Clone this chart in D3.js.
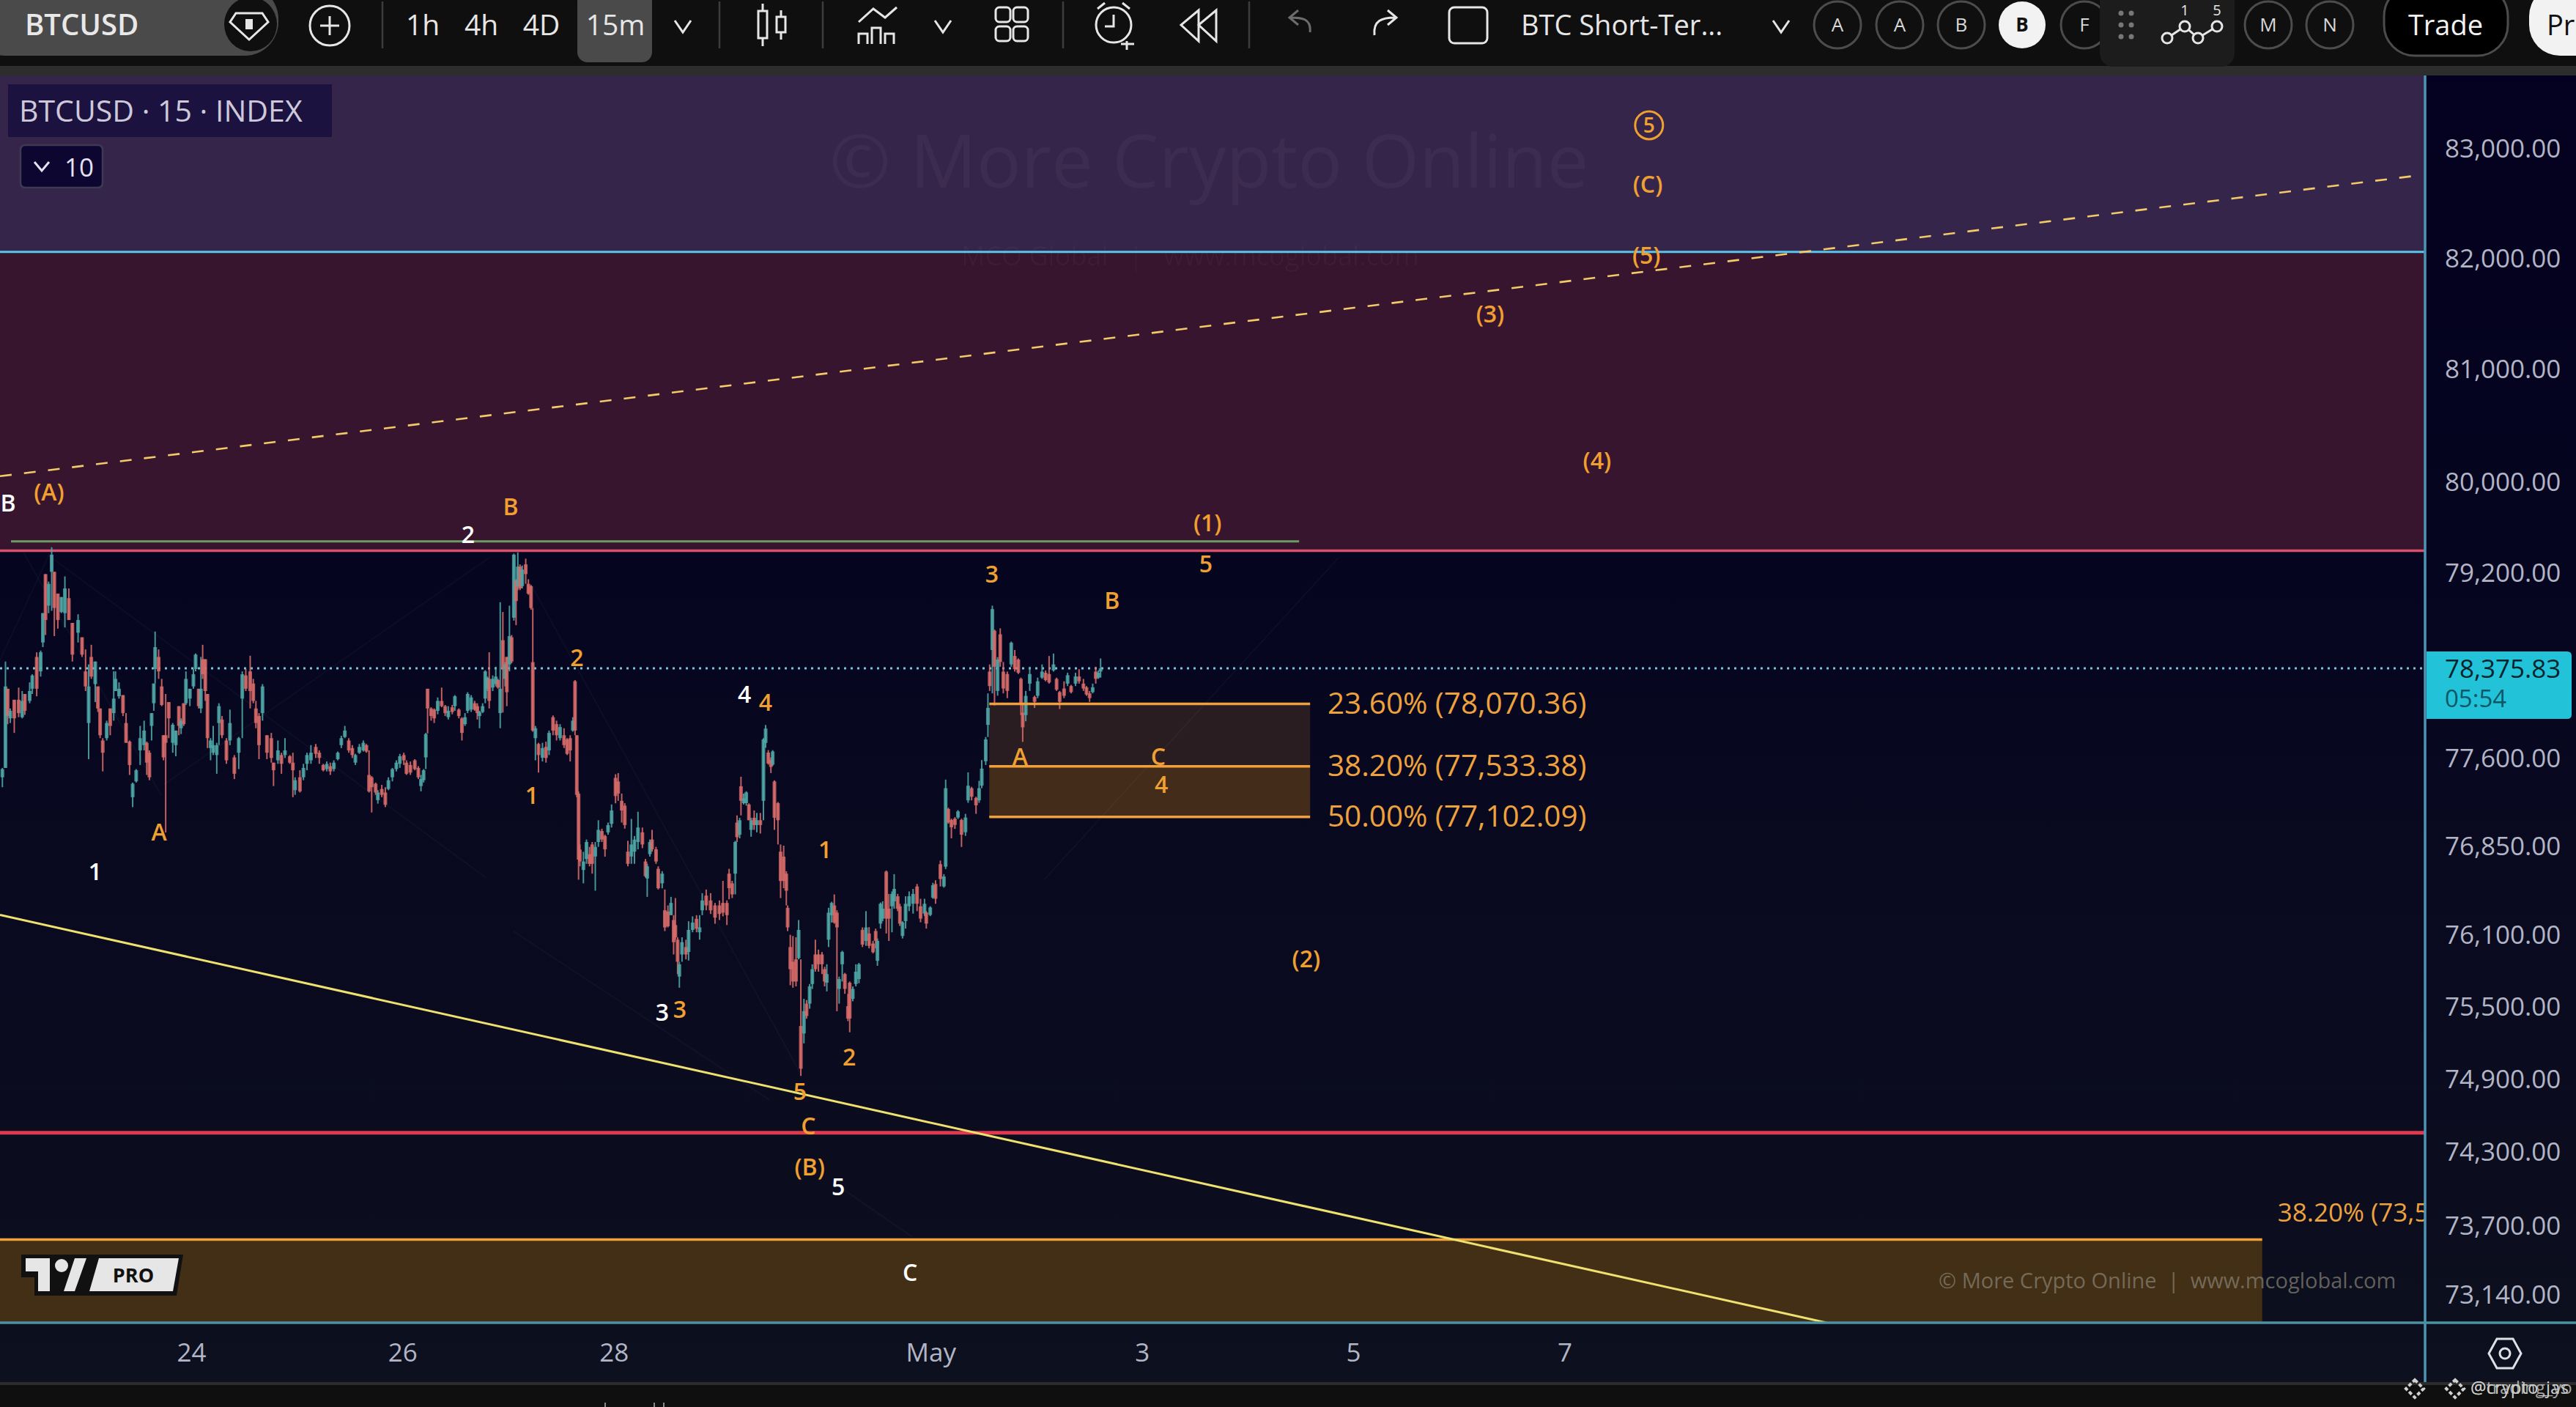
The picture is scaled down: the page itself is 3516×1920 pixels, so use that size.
<!DOCTYPE html>
<html><head><meta charset="utf-8">
<script src="https://cdn.jsdelivr.net/npm/d3@7"></script>
<style>html,body{margin:0;padding:0;background:#0f0f0f}svg{display:block}text{font-family:"Open Sans",sans-serif}</style>
</head><body><div id="c"></div>
<script>
// ---- values ----
// time unit: hours since 22 Apr 00:00 (UTC). Rows: hour, open, high, low, close
const candlesApr22to25 = [
[5.1,77440,77520,77355,77510],[5.8,77520,78435,77520,78220],[6.3,78200,78200,77895,77965],[6.9,77945,78030,77905,78010],[7.8,78105,78105,77820,77945],[8.8,78105,78210,77955,77990],[9.6,77955,78180,77945,78095],[10.2,78155,78155,77975,78010],[11.3,78095,78255,78075,78180],[11.9,78200,78325,78155,78315],[12.9,78475,78515,78135,78200],[13.8,78350,78530,78305,78515],[14.3,78600,78855,78560,78855],[14.9,79195,79195,78665,78795],[15.6,78920,79130,78855,79110],[16.3,79215,79430,78875,79365],[16.9,79215,79215,78655,78900],[17.7,79025,79025,78720,78795],[18.5,78865,78995,78855,78995],[19.3,78855,79175,78730,79070],[20.2,78985,79070,78795,78795],[21,78770,78770,78435,78495],[22.3,78685,78845,78600,78795],[23.2,78645,78645,78475,78495],[24,78350,78540,78180,78220],[24.7,77905,78410,77595,78220],[25.3,78475,78580,78285,78305],[26.2,78240,78435,78085,78435],[26.8,78220,78220,78000,78030],[27.3,78030,78030,77775,77800],[27.9,77755,77775,77490,77650],[28.8,77775,77925,77755,77905],[29.6,78030,78030,77800,77880],[30.4,77990,78350,77925,78115],[30.8,78180,78350,78180,78285],[31.6,78135,78255,78115,78200],[32.5,78145,78145,77965,77990],[33.2,77905,77990,77735,77735],[34,77745,77755,77460,77545],[34.7,77270,77395,77185,77385],[35.5,77405,77510,77395,77500],[36.4,77670,77880,77545,77775],[37.3,77715,77925,77670,77840],[37.9,77735,77745,77460,77565],[38.5,77650,77670,77415,77440],[39,77880,77990,77755,77990],[39.5,78075,78245,78010,78245],[39.8,78370,78695,78245,78560],[40.6,78475,78540,78285,78350],[41.3,78220,78285,78050,78060],[41.7,77800,77800,77585,77610],[42.2,77800,78155,76970,77735],[42.9,78085,78085,77775,77945],[43.8,77735,77905,77650,77890],[44.5,77715,77840,77620,77840],[45.2,78050,78050,77800,77880],[45.7,77860,77945,77810,77925],[46.3,78075,78075,77880,77895],[46.8,78075,78350,78060,78285],[47.7,78115,78200,78050,78200],[48.5,78220,78370,78200,78325],[49,78370,78505,78350,78495],[49.7,78200,78200,78030,78050],[50.2,78030,78475,77990,78200],[50.6,78455,78580,78285,78325],[51.2,78455,78455,78095,78180],[51.7,78155,78155,77690,77775],[52.4,77690,77775,77585,77755],[53,77650,77880,77630,77715],[53.8,77630,77735,77470,77715],[54.3,77905,78075,77715,78050],[55,77935,77965,77775,77800],[56,77755,77775,77555,77585],[56.8,77755,78020,77715,77905],[57.8,77610,77630,77425,77470],[58.8,77650,77785,77510,77775],[59.6,78115,78350,77775,78325],[60.4,78315,78370,78180,78200],[61.4,78350,78485,78030,78180],[62.1,78245,78285,78075,78095],[62.7,78030,78095,77860,77905],[63.4,77965,77990,77595,77715],[64.2,77990,78240,77925,78220],[65.2,77800,77800,77595,77650],[66.2,77775,77820,77565,77605],[66.7,77565,77565,77365,77500],[67.7,77585,77755,77555,77670],[68.5,77630,77650,77470,77555],[69.3,77630,77775,77605,77670],[70.4,77620,77630,77555,77565],[71.1,77565,77650,77270,77500]
];
const candlesApr25to27 = [
[71.6,77330,77440,77290,77415],[72.7,77440,77500,77310,77320],[73.5,77440,77555,77415,77520],[74.3,77555,77650,77500,77630],[75.2,77585,77715,77555,77650],[76.3,77700,77725,77605,77640],[77.1,77650,77670,77555,77605],[78,77545,77555,77490,77500],[78.8,77510,77575,77490,77555],[79.6,77535,77565,77460,77490],[80.4,77510,77585,77490,77565],[81.3,77595,77660,77585,77650],[82.1,77715,77795,77690,77775],[82.9,77785,77880,77775,77840],[83.8,77755,77775,77650,77670],[84.6,77690,77715,77605,77630],[85.3,77565,77640,77545,77630],[86.2,77650,77725,77640,77700],[87.1,77670,77755,77660,77735],[87.8,77715,77725,77650,77660],[88.4,77460,77670,77310,77320],[89,77440,77450,77140,77355],[89.9,77385,77395,77290,77310],[90.4,77245,77330,77215,77310],[91.3,77340,77375,77270,77290],[92.1,77310,77355,77185,77205],[92.8,77340,77440,77330,77415],[93.7,77440,77520,77405,77510],[94.6,77510,77585,77490,77565],[95.4,77555,77640,77520,77620],[96.3,77630,77650,77545,77585],[96.9,77565,77585,77460,77470],[97.8,77545,77575,77460,77480],[98.8,77585,77595,77500,77510],[99.6,77520,77535,77425,77440],[100.2,77365,77460,77320,77425],[100.8,77415,77510,77395,77500],[101.3,77610,77820,77510,77810],[101.7,78200,78200,77815,78030],[102.5,78030,78040,77925,77965],[103.2,78020,78030,77905,77945],[104,78010,78125,77980,78095],[104.9,78095,78210,78040,78050],[105.7,78050,78060,77965,77990],[106.4,77955,78050,77935,78010],[107.3,78040,78060,77980,78000],[107.9,78050,78145,78010,78135],[108.8,78020,78030,77945,77965],[109.5,77945,77955,77755,77820],[110.2,77895,77990,77880,77955],[110.8,78010,78170,77990,78155],[111.6,78020,78145,78000,78125],[112.4,78075,78095,78010,78020],[113,78050,78075,77935,77990],[113.5,77965,78010,77860,77999],[114.2,78000,78075,77990,78050],[114.8,78115,78360,78075,78350],[115.3,78200,78305,78180,78295],[115.7,78285,78515,78030,78095],[116.5,78210,78315,78180,78285],[117.2,78240,78390,78220,78305],[117.7,78275,78285,78200,78210],[118.2,77990,78950,77860,78200],[118.8,78620,78865,77995,78370],[119.3,78285,78430,78220,78410],[119.7,78475,78475,78050,78170],[120.3,78410,78920,78350,78655],[120.8,78645,78665,78420,78435],[121.3,78815,79375,78790,79365],[121.8,79140,79150,78750,78960],[122.2,79090,79385,79055,79260],[122.7,79260,79280,79055,79070],[123.2,79090,79270,79070,79235],[124,79280,79330,79110,79195],[124.6,79110,79150,79015,79025],[125.2,79090,79100,78885,78900],[125.6,78430,78900,77830,77840],[126.2,77775,77880,77585,77860],[126.9,77725,77735,77480,77630],[127.8,77607,77735,77575,77690],[128.6,77700,77745,77565,77605],[129.3,77670,77840,77630,77820],[130.2,77955,77970,77800,77840],[131,77895,77925,77755,77800],[131.8,77775,77895,77755,77870],[132.7,77800,77860,77690,77715],[133.4,77765,77775,77630,77640],[134.1,77775,77800,77575,77670],[134.7,77840,77955,77830,77925],[135.2,78265,78275,77800,77840],[135.6,77800,77800,77270,77290]
];
const candlesApr27to30 = [
[136,77300,77320,76570,76740],[136.3,76825,76868,76683,76724],[137.1,76652,76806,76539,76724],[137.8,76745,76910,76704,76889],[138.5,76786,76848,76683,76704],[139.1,76868,76889,76621,76704],[139.8,76766,76889,76477,76848],[140.5,76889,77074,76848,76992],[141.3,76982,77002,76889,76910],[142,76940,76951,76765,76827],[142.7,76971,77054,76951,77033],[143.5,77043,77208,77012,77157],[144.4,77435,77466,77218,77280],[145,77404,77476,77239,77301],[145.8,77239,77301,77054,77157],[146.5,77198,77219,77002,77033],[147.2,76807,76899,76683,76704],[148,76766,77085,76704,76868],[148.7,76807,76940,76704,76910],[149.5,76889,77146,76827,77012],[150.5,76971,77012,76837,76868],[151.2,76724,76745,76590,76600],[151.6,76580,76704,76425,76683],[152.2,76786,76910,76765,76889],[152.7,76910,76992,76807,76827],[153.6,76827,76848,76704,76724],[154.1,76662,76683,76487,76498],[155,76539,76642,76497,76621],[155.6,76312,76487,76137,76168],[156.3,76302,76353,76168,76178],[157,76271,76425,76271,76374],[157.6,76230,76271,75941,76044],[158,76188,76415,76065,76085],[158.5,76065,76085,75777,75880],[158.9,75756,75880,75663,75859],[159.5,75941,76085,75880,76044],[160.4,76003,76065,75900,75941],[161,75962,76220,75890,76147],[161.9,76147,76261,76127,76209],[162.8,76240,76271,76127,76157],[163.5,76127,76271,76065,76168],[164.1,76312,76456,76271,76395],[165,76436,76487,76312,76353],[166,76395,76456,76281,76312],[167,76353,76374,76199,76250],[168,76353,76395,76230,76281],[168.8,76374,76560,76261,76292],[169.7,76374,76395,76188,76271],[170.2,76621,76662,76405,76498],[170.9,76539,76560,76415,76446],[171.6,76621,76899,76446,76889],[172,77054,77115,76889,76930],[172.6,76951,77095,76920,77074],[172.9,77363,77445,77115,77239],[173.5,77219,77301,77208,77260],[174.1,77219,77321,77198,77311],[174.7,77208,77218,77074,77074],[175.2,76992,77095,76934,77074],[175.9,77095,77157,76992,77033],[176.5,77033,77136,76971,77074],[177.3,77074,77136,76961,77033],[178,77239,77775,77074,77764],[178.5,77734,77888,77692,77857],[179.1,77651,77672,77548,77558],[179.7,77589,77610,77476,77528],[180.1,77548,77672,77538,77661],[180.5,77404,77414,76992,77095],[181.3,77219,77229,76868,77074],[181.9,76807,76868,76415,76559],[182.6,76765,76858,76498,76559],[183.2,76621,76642,76353,76477],[183.5,76333,76353,76137,76168],[184.1,76003,76106,75684,75818],[184.7,75880,76096,75663,75715],[185.4,75900,76085,75674,75715],[186,75910,76230,75900,76147],[186.5,75344,75900,74930,74990],[187.2,75282,75570,75200,75468],[187.8,75530,75560,75405,75427],[188.5,75530,75694,75488,75674],[189.1,75694,75859,75653,75818],[189.8,75941,76065,75797,75818],[190.5,75941,75982,75797,75859],[191.3,75941,75962,75777,75859],[191.9,75818,75838,75674,75715],[192.4,75705,75859,75632,75777],[192.8,76065,76333,76003,76292],[193.5,76271,76384,76209,76374],[194.1,76353,76446,76199,76209],[194.7,76292,76312,75467,76168],[195.2,75653,75756,75530,75735],[195.9,75859,75972,75715,75962],[196.5,75777,75787,75612,75653],[197.2,75509,75612,75385,75406],[197.6,75705,75715,75292,75406],[198.3,75570,75674,75550,75653],[199,75694,75859,75674,75797],[199.7,75735,75870,75700,75859],[200.5,76147,76168,76003,76024]
];
const candlesApr30toMay2 = [
[201.3,76054,76305,76013,76168],[202,76117,76170,75992,76013],[202.9,76033,76055,75950,75960],[203.5,76138,76158,75992,76055],[203.9,75888,76075,75846,76055],[204.6,76200,76378,76158,76367],[205.1,76242,76388,76221,76326],[205.9,76638,76648,76117,76242],[206.5,76326,76450,76054,76242],[207.2,76346,76471,76127,76450],[207.7,76388,76617,76325,76492],[208.5,76430,76450,76305,76325],[209,76346,76367,76180,76200],[209.6,76096,76220,76075,76210],[210.3,76221,76430,76158,76367],[211.1,76346,76471,76305,76430],[212,76367,76492,76284,76450],[212.9,76513,76534,76305,76367],[213.7,76346,76409,76211,76242],[214.6,76284,76409,76263,76367],[215,76294,76305,76158,76200],[215.9,76273,76346,76263,76336],[216.5,76419,76544,76409,76523],[217.1,76534,76565,76367,76409],[218.2,76701,76732,76513,76576],[219,76513,76617,76503,76597],[219.4,76680,77420,76660,77347],[220,77170,77180,77045,77055],[220.7,77076,77087,76920,77014],[221.5,77087,77100,77000,77034],[222.2,77097,77160,77085,77149],[223,77076,77087,76847,76951],[223.9,76972,77128,76941,77097],[224.5,77243,77482,77222,77368],[225.3,77347,77358,77243,77274],[226.3,77264,77274,77128,77201],[227,77243,77410,77222,77347],[227.6,77368,77587,77347,77514],[228.5,77577,77785,77545,77764],[229,77889,78160,77785,78035],[229.4,78348,78410,78181,78223],[230,78535,78920,78160,78890],[230.5,78702,78712,78056,78390],[231.2,78181,78473,78140,78452],[231.8,78671,78723,78390,78431],[232.5,78348,78431,78160,78202],[233.4,78327,78348,78119,78181],[234.3,78410,78608,78390,78598],[235.1,78483,78535,78348,78369],[235.9,78452,78462,78327,78338],[236.5,78285,78296,77973,78077],[236.9,77994,78077,77743,77868],[237.6,77973,78181,77920,78139],[238.5,78244,78390,78181,78327],[239.6,78129,78140,78035,78087],[240.3,78139,78296,78119,78264],[241.3,78296,78410,78285,78348],[242.1,78338,78358,78264,78275],[242.9,78327,78483,78244,78254],[243.9,78358,78504,78348,78410],[244.6,78285,78296,78181,78192],[245.3,78171,78181,78025,78087],[246.3,78202,78264,78119,78139],[247.1,78244,78338,78223,78317],[247.9,78223,78233,78160,78171],[248.9,78244,78338,78223,78306],[249.7,78306,78369,78244,78264],[250.7,78244,78285,78181,78202],[251.4,78212,78223,78139,78150],[252.1,78160,78181,78087,78119],[252.8,78171,78244,78160,78212],[253.5,78348,78390,78244,78285],[254.1,78296,78358,78285,78338],[254.6,78348,78462,78296,78376]
];
const hourDomain = [4.56, 555.5];
const priceDomain = [83673, 72918];
const priceTicks = [83000,82000,81000,80000,79200,77600,76850,76100,75500,74900,74300,73700,73140];
const timeTicks = [48,96,144,216,264,312,360];
const timeTickLabels = ["24","26","28","May","3","5","7"];
const lastPrice = 78375.83;
const countdown = "05:54";
const zoneLevels = [83673, 82060, 79400];          // purple zone / maroon zone limits
const greenLevel = {price:79482, from:7.06, to:299.7};
const lowerRedLevel = 74462;
const fibHours = [229.3, 302.2];
const fibPrices = [78070.36, 77533.38, 77102.09];
const fibLabels = ["23.60% (78,070.36)","38.20% (77,533.38)","50.00% (77,102.09)"];
const lowerBox = {top:73590, bottom:72918, endHour:518.5, labelHour:522, label:"38.20% (73,5"};
const yellowTrend = [[4.56,76273],[419.5,72918]];
const dashedTrend = [[4.56,80055],[553.2,82752]];
const guideLines = [
[15.5,79360,114.9,76588],[41.8,77378,115.7,79340],[125.2,79104,186.5,74945],[121.1,76138,179.3,74735],
[194.8,74032,211.8,73612],[241.8,76571,308.7,79340],[4.56,78449,16.2,79405],[9.6,79405,41.2,77285]];
const whiteWaves = [["B",6.4,79804],["2",110.9,79527],["1",26.2,76625],["3",155,75445],["4",173.7,78139],["5",195,74008],["C",211.3,73311]];
const orangeWaves = [["(A)",15.7,79901],["B",120.6,79771],["A",40.7,76959],["2",135.6,78455],["1",125.4,77271],["4",178.5,78069],["3",159,75470],["1",192,76811],["2",197.5,75074],["5",186.3,74790],["C",188.2,74506],["(B)",188.5,74170],["3",229.9,79180],["B",257.2,78950],["A",236.3,77604],["C",267.7,77604],["4",268.4,77365],["5",278.5,79270],["(1)",278.9,79630],["(2)",301.3,75891],["(3)",343.1,81485],["(4)",367.4,80178],["(5)",378.6,82013],["(C)",378.9,82659]];
const circledWave = ["5",379.2,83215];
const topIntervals = [["1h",577],["4h",657],["4D",739],["15m",840]];
const circleButtons = [["A",2508],["A",2593],["B",2677],["B",2760],["F",2845],["M",3096],["N",3180]];

// ---- scales ----
const W=3516,H=1920, plotRight=3310, plotTop=103, plotBottom=1805;
const x=d3.scaleLinear().domain(hourDomain).range([0,plotRight]);
const y=d3.scaleLog().domain(priceDomain).range([plotTop,plotBottom]);
const candles=[...candlesApr22to25,...candlesApr25to27,...candlesApr27to30,...candlesApr30toMay2]
  .map(r=>({t:r[0],o:r[1],h:r[2],l:r[3],c:r[4]}));

const svg=d3.select("#c").append("svg").attr("width",W).attr("height",H).attr("viewBox",`0 0 ${W} ${H}`);
const defs=svg.append("defs");
const grad=defs.append("linearGradient").attr("id","navy").attr("x1",0).attr("x2",0).attr("y1",0).attr("y2",1);
grad.append("stop").attr("offset","0").attr("stop-color","#03011f");
grad.append("stop").attr("offset","0.45").attr("stop-color","#070620");
grad.append("stop").attr("offset","1").attr("stop-color","#0d101e");
defs.append("clipPath").attr("id","plot").append("rect").attr("x",0).attr("y",plotTop).attr("width",plotRight).attr("height",plotBottom-plotTop);

svg.append("rect").attr("width",W).attr("height",H).attr("fill","#0f0f0f");
svg.append("rect").attr("y",plotTop).attr("width",W).attr("height",1889-plotTop).attr("fill","url(#navy)");

const plot=svg.append("g").attr("clip-path","url(#plot)");
plot.append("rect").attr("x",0).attr("width",plotRight).attr("y",y(zoneLevels[0])).attr("height",y(zoneLevels[1])-y(zoneLevels[0])).attr("fill","#36254a");
plot.append("rect").attr("x",0).attr("width",plotRight).attr("y",y(zoneLevels[1])).attr("height",y(zoneLevels[2])-y(zoneLevels[1])).attr("fill","#38152e");

// watermark
plot.append("text").attr("x",1132).attr("y",256).attr("font-size",101).attr("fill","#fff").attr("fill-opacity",.035).text("© More Crypto Online");
plot.append("text").attr("x",1312).attr("y",362).attr("font-size",36).attr("fill","#fff").attr("fill-opacity",.03).text("MCO Global\u00a0\u00a0\u00a0|\u00a0\u00a0\u00a0www.mcoglobal.com");

// fib boxes
plot.append("rect").attr("x",x(fibHours[0])).attr("width",x(fibHours[1])-x(fibHours[0])).attr("y",y(fibPrices[0])).attr("height",y(fibPrices[1])-y(fibPrices[0])).attr("fill","#2a1d22");
plot.append("rect").attr("x",x(fibHours[0])).attr("width",x(fibHours[1])-x(fibHours[0])).attr("y",y(fibPrices[1])).attr("height",y(fibPrices[2])-y(fibPrices[1])).attr("fill","#432c19");
plot.append("rect").attr("x",0).attr("width",x(lowerBox.endHour)).attr("y",y(lowerBox.top)).attr("height",y(lowerBox.bottom)-y(lowerBox.top)).attr("fill","#432f15");

// faint guides
plot.selectAll(".guide").data(guideLines).join("line").attr("class","guide")
 .attr("x1",d=>x(d[0])).attr("y1",d=>y(d[1])).attr("x2",d=>x(d[2])).attr("y2",d=>y(d[3]))
 .attr("stroke","#ffffff").attr("stroke-opacity",.03).attr("stroke-width",2);

// lines
const hl=(p,a,b,c,w)=>plot.append("line").attr("x1",a).attr("x2",b).attr("y1",y(p)).attr("y2",y(p)).attr("stroke",c).attr("stroke-width",w);
hl(zoneLevels[1],0,plotRight,"#58c6ea",3);
hl(zoneLevels[2],0,plotRight,"#d8506c",3.5);
hl(greenLevel.price,x(greenLevel.from),x(greenLevel.to),"#6c9c62",3);
hl(lowerRedLevel,0,plotRight,"#df3a52",5);
plot.append("line").attr("x1",0).attr("x2",plotRight).attr("y1",y(lastPrice)).attr("y2",y(lastPrice))
 .attr("stroke","#74c4dc").attr("stroke-width",3).attr("stroke-dasharray","3 6");
const tl=d3.line().x(d=>x(d[0])).y(d=>y(d[1]));

// candles
const cg=plot.append("g");
const col=d=>d.c>=d.o?"#4fa9a8":"#d96c6a";
cg.selectAll(".w").data(candles).join("line").attr("class","w")
 .attr("x1",d=>x(d.t)).attr("x2",d=>x(d.t)).attr("y1",d=>y(d.h)).attr("y2",d=>y(d.l))
 .attr("stroke",col).attr("stroke-width",2).attr("stroke-opacity",.88);
cg.selectAll(".b").data(candles).join("rect").attr("class","b")
 .attr("x",d=>x(d.t)-2.5).attr("width",5)
 .attr("y",d=>Math.min(y(d.o),y(d.c))).attr("height",d=>Math.max(1.5,Math.abs(y(d.o)-y(d.c))))
 .attr("fill",col).attr("fill-opacity",.82);

// fib lines over candles
fibPrices.forEach(p=>hl(p,x(fibHours[0]),x(fibHours[1]),"#f0a03c",3.5));
hl(lowerBox.top,0,x(lowerBox.endHour),"#f0a03c",3.5);
plot.append("path").attr("d",tl(yellowTrend)).attr("fill","none").attr("stroke","#efe170").attr("stroke-width",3);
plot.append("path").attr("d",tl(dashedTrend)).attr("fill","none").attr("stroke","#f2ca68").attr("stroke-width",2.6).attr("stroke-dasharray","16 17");

// fib labels
fibPrices.forEach((p,i)=>plot.append("text").attr("x",1812).attr("y",y(p)).attr("dy","0.33em").attr("font-size",40.4).attr("fill","#eea23e").text(fibLabels[i]));
plot.append("text").attr("x",x(lowerBox.labelHour)).attr("y",1655).attr("dy","0.33em").attr("font-size",35).attr("fill","#eea23e").text(lowerBox.label);

// bottom-right credit
plot.append("text").attr("x",2646).attr("y",1748).attr("dy","0.36em").attr("font-size",29).attr("fill","#8a8578").attr("fill-opacity",.7).text("© More Crypto Online\u00a0\u00a0|\u00a0\u00a0www.mcoglobal.com");

// wave labels
const waves=(arr,c)=>plot.selectAll(null).data(arr).join("text").attr("x",d=>x(d[1])).attr("y",d=>y(d[2])).attr("dy","0.3em")
 .attr("text-anchor","middle").attr("font-size",32).attr("font-weight",600).attr("fill",c).text(d=>d[0]);
waves(orangeWaves,"#f0a030"); waves(whiteWaves,"#ffffff");
plot.append("circle").attr("cx",x(circledWave[1])).attr("cy",y(circledWave[2])).attr("r",19).attr("fill","none").attr("stroke","#f0a030").attr("stroke-width",3);
plot.append("text").attr("x",x(circledWave[1])).attr("y",y(circledWave[2])).attr("dy","0.36em").attr("text-anchor","middle").attr("font-size",28).attr("font-weight",600).attr("fill","#f0a030").text(circledWave[0]);

// TV PRO badge
const logo=svg.append("g");
logo.append("path").attr("d","M29 1712H250L241 1768H47V1743H29Z").attr("fill","#111");
logo.append("path").attr("d","M35 1717H68V1762H52V1735H35Z").attr("fill","#e6e6e6");
logo.append("circle").attr("cx",84).attr("cy",1727).attr("r",9).attr("fill","#e6e6e6");
logo.append("path").attr("d","M102 1717H118L102 1762H87Z").attr("fill","#e6e6e6");
logo.append("path").attr("d","M135 1717H244L236 1762H122Z").attr("fill","#e6e6e6");
logo.append("text").attr("x",182).attr("y",1740).attr("dy","0.36em").attr("text-anchor","middle").attr("font-size",27).attr("font-weight",700).attr("fill","#111").text("PRO");

// axes
const axisY=d3.axisRight(y).tickValues(priceTicks).tickSize(0).tickPadding(0).tickFormat(d3.format(",.2f"));
const gy=svg.append("g").attr("transform",`translate(3337,0)`).call(axisY);
gy.select(".domain").remove();
gy.selectAll("text").attr("font-size",35).attr("fill","#b2b5c6").attr("font-family",'"Open Sans",sans-serif');
const axisX=d3.axisBottom(x).tickValues(timeTicks).tickSize(0).tickPadding(0).tickFormat((d,i)=>timeTickLabels[i]);
const gx=svg.append("g").attr("transform",`translate(0,1845)`).call(axisX);
gx.select(".domain").remove();
gx.selectAll("text").attr("font-size",35).attr("fill","#b2b5c6").attr("dy","0.36em").attr("font-family",'"Open Sans",sans-serif');

// frame
svg.append("line").attr("x1",plotRight).attr("x2",plotRight).attr("y1",plotTop).attr("y2",1887).attr("stroke","#4f94b4").attr("stroke-width",3.5);
svg.append("line").attr("x1",0).attr("x2",W).attr("y1",plotBottom).attr("y2",plotBottom).attr("stroke","#4a92a4").attr("stroke-width",3.5);

// last price tag
svg.append("path").attr("d","M3312 889H3504Q3510 889 3510 895V975Q3510 981 3504 981H3312Z").attr("fill","#22c3d8");
svg.append("text").attr("x",3337).attr("y",912).attr("dy","0.36em").attr("font-size",35).attr("fill","#07232c").text(d3.format(",.2f")(lastPrice));
svg.append("text").attr("x",3337).attr("y",953).attr("dy","0.36em").attr("font-size",33).attr("fill","#0c5866").text(countdown);

// gear
svg.append("path").attr("d","M3397 1847L3408 1827H3430L3441 1847L3430 1867H3408Z").attr("fill","none").attr("stroke","#dfe0e6").attr("stroke-width",3);
svg.append("circle").attr("cx",3419).attr("cy",1847).attr("r",7).attr("fill","none").attr("stroke","#dfe0e6").attr("stroke-width",3);

// bottom strip
svg.append("rect").attr("y",1886).attr("width",W).attr("height",4).attr("fill","#2c2c2c");
const mark=(cx,cy)=>{svg.append("path").attr("d",`M${cx} ${cy-12}L${cx+12} ${cy}L${cx} ${cy+12}L${cx-12} ${cy}Z`).attr("fill","none").attr("stroke","#d0d0d0").attr("stroke-width",4).attr("stroke-dasharray","5 3");};
mark(3296,1895);mark(3351,1895);
svg.append("text").attr("x",3372).attr("y",1893).attr("dy","0.36em").attr("font-size",24).attr("fill","#cfcfcf").text("@crypto_jas");
svg.append("text").attr("x",3372).attr("y",1893).attr("dy","0.36em").attr("font-size",24).attr("fill","#cfcfcf").attr("fill-opacity",.8).text("@trading_yo");
svg.append("path").attr("d","M826 1920V1914M893 1920V1914M906 1920V1914").attr("stroke","#888").attr("stroke-width",2);

// ---- toolbar ----
svg.append("rect").attr("y",0).attr("width",W).attr("height",91).attr("fill","#0f0f0f");
svg.append("rect").attr("y",90).attr("width",W).attr("height",13).attr("fill","#2d2d2d");
const tb=svg.append("g");
const st={fill:"none",stroke:"#e6e6e6","stroke-width":3};
const P=(d,s={})=>{const e=tb.append("path").attr("d",d);Object.entries({...st,...s}).forEach(([k,v])=>e.attr(k,v));return e;};
const chev=cx=>P(`M${cx-11} 28L${cx} 44L${cx+11} 28`);
const sep=cx=>tb.append("line").attr("x1",cx).attr("x2",cx).attr("y1",2).attr("y2",66).attr("stroke","#3c3c3c").attr("stroke-width",2.5);
tb.append("rect").attr("x",-40).attr("y",-20).attr("width",420).attr("height",96).attr("rx",46).attr("fill","#4a4a4a");
tb.append("ellipse").attr("cx",342).attr("cy",33).attr("rx",36).attr("ry",37).attr("fill","#0f0f0f");
tb.append("text").attr("x",34).attr("y",34).attr("dy","0.36em").attr("font-size",40).attr("font-weight",600).attr("fill","#e8e8e8").text("BTCUSD");
P("M322 18H358L366 30L340 54L314 30Z");tb.append("rect").attr("x",335).attr("y",26).attr("width",10).attr("height",14).attr("fill","#e6e6e6");
tb.append("circle").attr("cx",450).attr("cy",35).attr("r",27).attr("fill","none").attr("stroke","#e6e6e6").attr("stroke-width",3);
P("M450 22V48M437 35H463");
sep(522);sep(982);sep(1123);sep(1451);sep(1705);
tb.append("rect").attr("x",788).attr("y",-12).attr("width",102).attr("height",97).attr("rx",14).attr("fill","#4a4a4a");
tb.selectAll(null).data(topIntervals).join("text").attr("x",d=>d[1]).attr("y",34).attr("dy","0.36em").attr("text-anchor","middle")
 .attr("font-size",39).attr("fill","#e6e6e6").text(d=>d[0]);
chev(932);
P("M1041 5V63M1066 14V54");tb.append("rect").attr("x",1035).attr("y",15).attr("width",12).attr("height",37).attr("fill","#0f0f0f").attr("stroke","#e6e6e6").attr("stroke-width",3);
tb.append("rect").attr("x",1060).attr("y",23).attr("width",12).attr("height",21).attr("fill","#0f0f0f").attr("stroke","#e6e6e6").attr("stroke-width",3);
P("M1172 30L1192 12L1208 24L1224 10M1172 60V46H1184V60M1190 60V38H1202V60M1208 60V46H1220V60");
chev(1287);
[[1368,10],[1392,10],[1368,36],[1392,36]].forEach(a=>tb.append("rect").attr("x",a[0]-9).attr("y",a[1]).attr("width",20).attr("height",20).attr("rx",5).attr("fill","none").attr("stroke","#e6e6e6").attr("stroke-width",3));
tb.append("circle").attr("cx",1520).attr("cy",34).attr("r",24).attr("fill","none").attr("stroke","#e6e6e6").attr("stroke-width",3);
P("M1520 20V36H1508M1498 12L1508 4M1542 12L1532 4M1538 56V68M1530 60H1548");
P("M1660 14L1636 34L1660 56ZM1636 14L1612 34L1636 56Z");
P("M1788 44C1790 26 1778 24 1762 24M1772 14L1760 24L1772 34",{stroke:"#6c6c6c"});
P("M1876 48C1874 28 1886 24 1904 24M1894 14L1906 24L1894 34");
tb.append("rect").attr("x",1978).attr("y",10).attr("width",52).attr("height",49).attr("rx",7).attr("fill","none").attr("stroke","#e6e6e6").attr("stroke-width",3);
tb.append("text").attr("x",2076).attr("y",34).attr("dy","0.36em").attr("font-size",38).attr("fill","#e6e6e6").text("BTC Short-Ter...");
chev(2431);
circleButtons.forEach(([t,cx],i)=>{const on=i===3;
 tb.append("ellipse").attr("cx",cx).attr("cy",34).attr("rx",32).attr("ry",32).attr("fill",on?"#f2f2f2":"none").attr("stroke",on?"none":"#4c4c4c").attr("stroke-width",3);
 tb.append("text").attr("x",cx).attr("y",34).attr("dy","0.36em").attr("text-anchor","middle").attr("font-size",26).attr("font-weight",on?700:400).attr("fill",on?"#111":"#d8d8d8").text(t);});
tb.append("rect").attr("x",2866).attr("y",-20).attr("width",184).attr("height",111).attr("rx",18).attr("fill","#1c1c1c");
tb.selectAll(null).data([[2895,18],[2909,18],[2895,34],[2909,34],[2895,50],[2909,50]]).join("circle").attr("cx",d=>d[0]).attr("cy",d=>d[1]).attr("r",3.5).attr("fill","#777");
P("M2958 52L2982 36L3000 52L3026 36",{"stroke-width":3});
[[2958,52],[2982,36],[3000,52],[3026,36]].forEach(a=>tb.append("circle").attr("cx",a[0]).attr("cy",a[1]).attr("r",7).attr("fill","#1c1c1c").attr("stroke","#e6e6e6").attr("stroke-width",3));
tb.append("text").attr("x",2982).attr("y",21).attr("text-anchor","middle").attr("font-size",20).attr("fill","#e6e6e6").text("1");
tb.append("text").attr("x",3026).attr("y",21).attr("text-anchor","middle").attr("font-size",20).attr("fill","#e6e6e6").text("5");
tb.append("rect").attr("x",3254).attr("y",-20).attr("width",169).attr("height",96).attr("rx",42).attr("fill","#000").attr("stroke","#4c4c4c").attr("stroke-width",3);
tb.append("text").attr("x",3338).attr("y",34).attr("dy","0.36em").attr("text-anchor","middle").attr("font-size",38).attr("font-weight",500).attr("fill","#f2f2f2").text("Trade");
tb.append("rect").attr("x",3452).attr("y",-20).attr("width",140).attr("height",96).attr("rx",42).attr("fill","#f2f2f2");
tb.append("text").attr("x",3476).attr("y",34).attr("dy","0.36em").attr("font-size",38).attr("font-weight",500).attr("fill","#111").text("Pr");

// legend chips
svg.append("rect").attr("x",11).attr("y",115).attr("width",442).attr("height",72).attr("fill","#1c1240");
svg.append("text").attr("x",26).attr("y",151).attr("dy","0.36em").attr("font-size",41).attr("fill","#cdc9da").text("BTCUSD · 15 · INDEX");
svg.append("rect").attr("x",28).attr("y",198).attr("width",112).attr("height",58).attr("rx",6).attr("fill","#0c0630").attr("stroke","#3d3a52").attr("stroke-width",2.5);
svg.append("path").attr("d","M47 221L57 233L67 221").attr("fill","none").attr("stroke","#e4e2ee").attr("stroke-width",3);
svg.append("text").attr("x",88).attr("y",228).attr("dy","0.36em").attr("font-size",35).attr("fill","#e4e2ee").text("10");
</script></body></html>
